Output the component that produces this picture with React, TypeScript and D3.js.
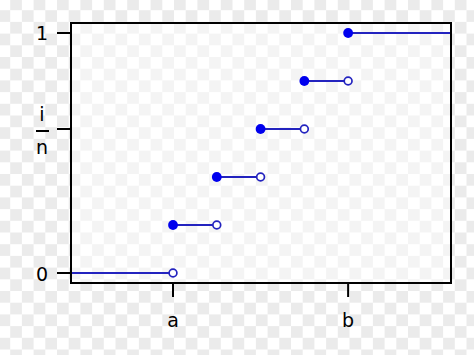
import React from "react";
import * as d3 from "d3";

const W = 474;
const H = 355;

// Data
const jumpX = [0, 1, 2, 3, 4]; // a .. b
const levels = [0, 0.2, 0.4, 0.6, 0.8, 1];
const xTickValues = [0, 4];
const xTickLabels = ["a", "b"];
const yTickValues = [0, 0.6, 1];

const xDomain = [-2.33, 6.35];
const yDomain = [-0.0417, 1.0417];

export default function App() {
  const left = 71, right = 451, top = 23, bottom = 283;
  const x = d3.scaleLinear().domain(xDomain).range([left, right]);
  const y = d3.scaleLinear().domain(yDomain).range([bottom, top]);

  const segStarts = [xDomain[0], ...jumpX];
  const segEnds = [...jumpX, xDomain[1]];
  const lineCol = "#2323bf";
  const dotCol = "#0000ee";
  const line = d3.line<[number, number]>().x((d) => x(d[0])).y((d) => y(d[1]));

  const font = "'DejaVu Sans', sans-serif";
  const fs = 19;
  const sq = 11.7;

  return (
    <svg width={W} height={H} style={{ position: "absolute", left: 0, top: 0 }}>
      <defs>
        <pattern id="chk" patternUnits="userSpaceOnUse" width={sq * 2} height={sq * 2} x={-1.5} y={-1.5}>
          <rect width={sq * 2} height={sq * 2} fill="#ffffff" />
          <rect x={sq} y={0} width={sq} height={sq} fill="#ebebeb" />
          <rect x={0} y={sq} width={sq} height={sq} fill="#ebebeb" />
        </pattern>
        <pattern id="chk2" patternUnits="userSpaceOnUse" width={sq * 2} height={sq * 2} x={-1.5} y={-1.5}>
          <rect width={sq * 2} height={sq * 2} fill="#ffffff" />
          <rect x={sq} y={0} width={sq} height={sq} fill="#f4f4f4" />
          <rect x={0} y={sq} width={sq} height={sq} fill="#f4f4f4" />
        </pattern>
      </defs>
      <rect width={W} height={H} fill="url(#chk)" />
      <rect x={left} y={top} width={right - left} height={bottom - top} fill="url(#chk2)" />

      {levels.map((lv, i) => (
        <path
          key={"s" + i}
          d={line([[segStarts[i], lv], [segEnds[i], lv]]) || ""}
          stroke={lineCol}
          strokeWidth={1.8}
          fill="none"
        />
      ))}
      {jumpX.map((xv, i) => (
        <circle key={"f" + i} cx={x(xv)} cy={y(levels[i + 1])} r={4.9} fill={dotCol} />
      ))}
      {jumpX.map((xv, i) => (
        <circle key={"o" + i} cx={x(xv)} cy={y(levels[i])} r={3.9} fill="#ffffff" stroke={lineCol} strokeWidth={1.7} />
      ))}

      <rect x={left} y={top} width={right - left} height={bottom - top} fill="none" stroke="#000" strokeWidth={2} />

      {yTickValues.map((v, i) => (
        <line key={"yt" + i} x1={left - 14} x2={left} y1={y(v)} y2={y(v)} stroke="#000" strokeWidth={2} />
      ))}
      <text x={42} y={y(1) + 7} fontSize={fs} fontFamily={font} textAnchor="middle" fill="#000">1</text>
      <text x={42} y={y(0) + 8} fontSize={fs} fontFamily={font} textAnchor="middle" fill="#000">0</text>
      <text x={42} y={121} fontSize={fs} fontFamily={font} textAnchor="middle" fill="#000">i</text>
      <line x1={36} x2={49} y1={131} y2={131} stroke="#000" strokeWidth={2} />
      <text x={42} y={154} fontSize={fs} fontFamily={font} textAnchor="middle" fill="#000">n</text>

      {xTickValues.map((v, i) => (
        <g key={"xt" + i}>
          <line x1={x(v)} x2={x(v)} y1={bottom} y2={bottom + 14} stroke="#000" strokeWidth={2} />
          <text x={x(v)} y={327} fontSize={fs} fontFamily={font} textAnchor="middle" fill="#000">
            {xTickLabels[i]}
          </text>
        </g>
      ))}
    </svg>
  );
}
